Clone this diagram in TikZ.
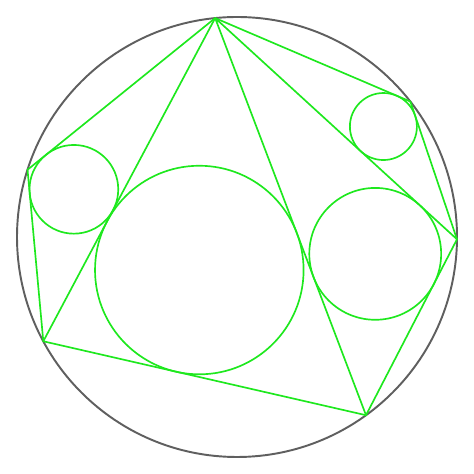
\documentclass[tikz,border=0pt]{standalone}
\usetikzlibrary{calc}
\definecolor{rimgray}{RGB}{95,95,95}
\definecolor{lgreen}{RGB}{30,232,30}
% incircle of the triangle #1 #2 #3
\newcommand{\incirc}[3]{%
  \draw[gline] let \p1 = (#1), \p2 = (#2), \p3 = (#3),
      \n1 = {veclen(\x2-\x3,\y2-\y3)},
      \n2 = {veclen(\x1-\x3,\y1-\y3)},
      \n3 = {veclen(\x1-\x2,\y1-\y2)},
      \n4 = {(\n1+\n2+\n3)/2},
      \n5 = {sqrt(((\n4-\n1)/\n4)*(\n4-\n2))*sqrt(\n4-\n3)}
    in ({\n1/(2*\n4)*\x1+\n2/(2*\n4)*\x2+\n3/(2*\n4)*\x3},
        {\n1/(2*\n4)*\y1+\n2/(2*\n4)*\y2+\n3/(2*\n4)*\y3}) circle (\n5);}
\begin{document}
\begin{tikzpicture}[rim/.style = {draw = rimgray,
                                  line width = 1.1pt},
                    gline/.style = {draw = lgreen,
                                    line width = 0.95pt}]
	\useasboundingbox (-4.74,-4.74) rectangle (4.74,4.74);
	\coordinate (o) at (0,0);
	\draw[rim] (o) circle (4.4);
	\foreach \name/\ang in {a/95.7, b/38.0, c/-0.6, d/-54.1, e/208.3, f/162.2}
		\coordinate (\name) at (\ang:4.4);
	\draw[gline] (a) -- (b) -- (c) -- (d) -- (e) -- (f) -- cycle;
	\draw[gline] (a) -- (c) (a) -- (d) (a) -- (e);
	\incirc{a}{b}{c}
	\incirc{a}{c}{d}
	\incirc{a}{d}{e}
	\incirc{a}{e}{f}
\end{tikzpicture}
\end{document}
